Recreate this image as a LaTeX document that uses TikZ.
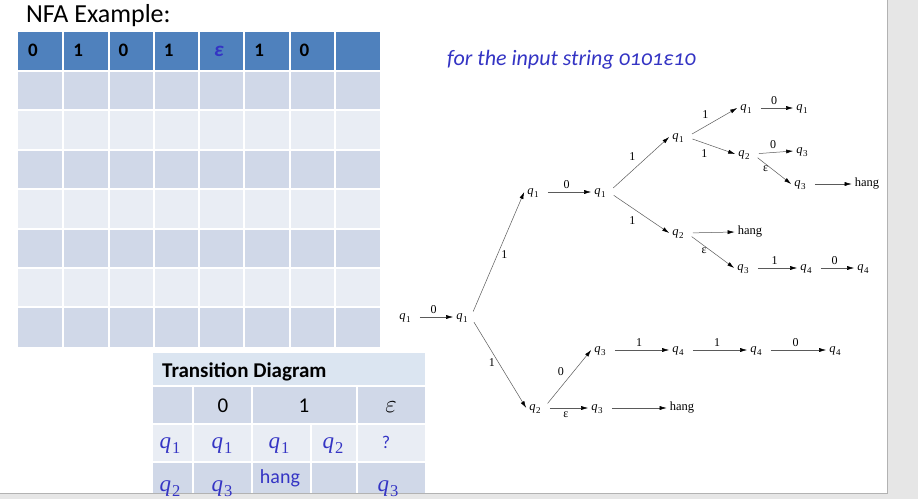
\documentclass[tikz,border=0pt]{standalone}
\usepackage{fontspec}
\setmainfont{Carlito}
\newfontfamily\treefont{Liberation Serif}
\usetikzlibrary{arrows.meta}
\definecolor{hdrblue}{HTML}{4F81BD}
\definecolor{rowdark}{HTML}{D0D8E8}
\definecolor{rowlight}{HTML}{E9EDF4}
\definecolor{titlerow}{HTML}{DBE5F1}
\definecolor{inkblue}{HTML}{3434C4}
\definecolor{edgegray}{HTML}{5A5A5A}
\definecolor{framegray}{HTML}{E6E6E6}
\newcommand{\qs}[1]{{\treefont\itshape q}\kern.04em\raisebox{-.25em}{\scalebox{.72}{\treefont #1}}}
\begin{document}
\begin{tikzpicture}[x=1pt,y=-1pt,
	stnode/.style={inner sep=3pt,text height=1.6ex,text depth=0.6ex,
		font=\treefont\fontsize{12.5}{12.5}\selectfont},
	lbl/.style={inner sep=3.5pt,font=\treefont\fontsize{12}{12}\selectfont},
	trans/.style={draw=edgegray,line width=0.5pt,
		-{Latex[length=7pt,width=4pt,color=black]},shorten <=6pt},
	tapetext/.style={anchor=base west,inner sep=0pt,font=\fontsize{19}{19}\selectfont\bfseries},
	tabtext/.style={anchor=base,inner sep=0pt,text=inkblue,font=\fontsize{23}{23}\selectfont}]
\useasboundingbox (0,0) rectangle (918,499);
\fill[framegray] (0,0) rectangle (918,499);
\fill[white] (0,0) rectangle (887,493);
\draw[gray!60] (887,0) -- (887,493) -- (0,493);

\node[anchor=base west,inner sep=0pt,font=\fontsize{26}{26}\selectfont] (title) at (26,22) {NFA Example:};
\node[anchor=base west,inner sep=0pt,text=inkblue,font=\fontsize{22}{22}\selectfont\itshape\addfontfeatures{Numbers=OldStyle}]
	(input) at (447,65) {for the input string 0101ε10};

% input tape
\fill[hdrblue] (18,32) rectangle (380,71);
\foreach \r in {1,...,7} {
	\ifodd\r \def\rc{rowdark}\else \def\rc{rowlight}\fi
	\fill[\rc] (18,{71+39.4*(\r-1)}) rectangle (380,{71+39.4*\r});
}
\foreach \k in {1,...,7}
	\draw[white,line width=2pt] ({18+45.25*\k},32) -- ++(0,315);
\foreach \r in {0,...,6}
	\draw[white,line width=2pt] (18,{71+39.4*\r}) -- (380,{71+39.4*\r});
\foreach \n/\s in {1/0,2/1,3/0,4/1,6/1,7/0}
	\node[tapetext] (tape\n) at ({28+45.25*(\n-1)},56) {\s};
\node[tapetext,text=inkblue,font=\fontsize{21}{21}\selectfont\bfseries\itshape] (tape5) at (214,56) {ε};

% transition table
\fill[titlerow] (153,353) rectangle (425,386);
\fill[rowdark] (153,386) rectangle (425,424);
\fill[rowlight] (153,424) rectangle (425,462);
\fill[rowdark] (153,462) rectangle (425,493);
\foreach \y in {386,424,462}
	\draw[white,line width=2pt] (153,\y) -- (425,\y);
\foreach \x in {193,252,357}
	\draw[white,line width=2pt] (\x,386) -- (\x,493);
\draw[white,line width=2pt] (311,424) -- (311,493);
\node[anchor=base west,inner sep=0pt,font=\fontsize{21}{21}\selectfont\bfseries] (ttitle) at (162,377) {Transition Diagram};
\node[tabtext,text=black,font=\fontsize{21}{21}\selectfont] (h0) at (223,412) {0};
\node[tabtext,text=black,font=\fontsize{21}{21}\selectfont] (h1) at (304,412) {1};
\node[tabtext,text=black] (he) at (391,412) {$\varepsilon$};
\node[tabtext] (c11) at (170,448) {\qs1};
\node[tabtext] (c12) at (222,448) {\qs1};
\node[tabtext] (c13) at (279,448) {\qs1};
\node[tabtext] (c14) at (333,448) {\qs2};
\node[tabtext,font=\fontsize{18}{18}\selectfont] (c15) at (386,448) {?};
\node[tabtext] (c21) at (170,491) {\qs2};
\node[tabtext] (c22) at (222,491) {\qs3};
\node[tabtext,font=\fontsize{20}{20}\selectfont] (c23) at (280,483) {hang};
\node[tabtext] (c25) at (388,491) {\qs3};

% computation tree
\begin{scope}[every node/.style=stnode]
\node (r)  at (405,317) {\qs1};
\node (a)  at (462,317) {\qs1};
\node (b)  at (533,192) {\qs1};
\node (c)  at (600,192) {\qs1};
\node (d)  at (678,137) {\qs1};
\node (e)  at (678,233) {\qs2};
\node (f)  at (746,108) {\qs1};
\node (g)  at (802,108) {\qs1};
\node (h)  at (744,154) {\qs2};
\node (i)  at (802,151) {\qs3};
\node (j)  at (800,184) {\qs3};
\node (k)  at (867,184) {hang};
\node (l)  at (750,232) {hang};
\node (m)  at (743,268) {\qs3};
\node (n)  at (806,268) {\qs4};
\node (o)  at (863,268) {\qs4};
\node (p)  at (535,408) {\qs2};
\node (q)  at (600,350) {\qs3};
\node (s1) at (678,350) {\qs4};
\node (s2) at (756,350) {\qs4};
\node (s3) at (835,350) {\qs4};
\node (u)  at (597,408) {\qs3};
\node (v)  at (682,408) {hang};
\end{scope}

\draw[trans] (r.east) -- node[lbl,above] {0} (a.west);
\draw[trans] (a.east) -- node[lbl,right] {1} (b.west);
\draw[trans] (b.east) -- node[lbl,above] {0} (c.west);
\draw[trans] (c.east) -- node[lbl,above left] {1} (d.west);
\draw[trans] (c.east) -- node[lbl,below left] {1} (e.west);
\draw[trans] (d.east) -- node[lbl,above left] {1} (f.west);
\draw[trans] (f.east) -- node[lbl,above] {0} (g.west);
\draw[trans] (d.east) -- node[lbl,below left] {1} (h.west);
\draw[trans] (h.east) -- node[lbl,above] {0} (i.west);
\draw[trans] (h.east) -- node[lbl,left] {ε} (j.west);
\draw[trans] (j.east) -- (k.west);
\draw[trans] (e.east) -- (l.west);
\draw[trans] (e.east) -- node[lbl,left] {ε} (m.west);
\draw[trans] (m.east) -- node[lbl,above] {1} (n.west);
\draw[trans] (n.east) -- node[lbl,above] {0} (o.west);
\draw[trans] (a.east) -- node[lbl,left] {1} (p.west);
\draw[trans] (p.east) -- node[lbl,above left] {0} (q.west);
\draw[trans] (q.east) -- node[lbl,above] {1} (s1.west);
\draw[trans] (s1.east) -- node[lbl,above] {1} (s2.west);
\draw[trans] (s2.east) -- node[lbl,above] {0} (s3.west);
\draw[trans] (p.east) -- node[lbl,below] {ε} (u.west);
\draw[trans] (u.east) -- (v.west);
\end{tikzpicture}
\end{document}
